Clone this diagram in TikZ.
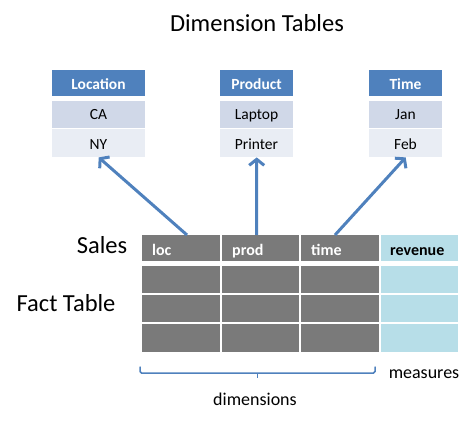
\documentclass[tikz,border=0pt]{standalone}
\usepackage{fontspec}
\setmainfont{Carlito}
\usetikzlibrary{arrows.meta}
\definecolor{hblue}{HTML}{4F81BD}
\definecolor{rowa}{HTML}{D0D8E8}
\definecolor{rowb}{HTML}{E9EDF4}
\definecolor{fgray}{HTML}{7A7A7A}
\definecolor{lblue}{HTML}{B7DEE8}
\tikzset{
  box/.style={draw=none, inner sep=0pt, anchor=north west},
  hdr/.style={box, fill=hblue},
  ra/.style={box, fill=rowa},
  rb/.style={box, fill=rowb},
  gcell/.style={box, fill=fgray},
  mcell/.style={box, fill=lblue},
  htxt/.style={anchor=base, text=white, font=\fontsize{15.5}{18}\selectfont\bfseries, inner sep=0pt},
  rtxt/.style={anchor=base, text=black, font=\fontsize{15.5}{18}\selectfont, inner sep=0pt},
  ftxt/.style={anchor=base west, font=\fontsize{16}{19}\selectfont\bfseries, inner sep=0pt},
  big/.style={anchor=base, font=\fontsize{24.5}{29}\selectfont, inner sep=0pt},
  mid/.style={anchor=base, font=\fontsize{18}{22}\selectfont, inner sep=0pt},
  conn/.style={draw=hblue, line width=3pt, -{Straight Barb[length=6pt,width=15pt]}},
}
\begin{document}
\begin{tikzpicture}[x=1pt,y=-1pt]
\useasboundingbox (0,0) rectangle (474,422);
% title
\node[big] (title) at (257,32) {Dimension Tables};
% Location table
\node[hdr, minimum width=93pt, minimum height=26pt] (lochdr) at (52,70) {};
\node[ra, minimum width=93pt, minimum height=27pt] (ca) at (52,101) {};
\node[rb, minimum width=93pt, minimum height=28pt] (ny) at (52,129) {};
\node[htxt] (loct) at (98.5,90) {Location};
\node[rtxt] (cat) at (98.5,120) {CA};
\node[rtxt] (nyt) at (98.5,150) {NY};
% Product table
\node[hdr, minimum width=73pt, minimum height=26pt] (prodhdr) at (220,70) {};
\node[ra, minimum width=73pt, minimum height=27pt] (laptop) at (220,101) {};
\node[rb, minimum width=73pt, minimum height=28pt] (printer) at (220,129) {};
\node[htxt] (prodt) at (256.5,90) {Product};
\node[rtxt] (lapt) at (256.5,120) {Laptop};
\node[rtxt] (prit) at (256.5,150) {Printer};
% Time table
\node[hdr, minimum width=73pt, minimum height=26pt] (timehdr) at (369,70) {};
\node[ra, minimum width=73pt, minimum height=27pt] (jan) at (369,101) {};
\node[rb, minimum width=73pt, minimum height=28pt] (feb) at (369,129) {};
\node[htxt] (timet) at (405.5,90) {Time};
\node[rtxt] (jant) at (405.5,120) {Jan};
\node[rtxt] (febt) at (405.5,150) {Feb};
% Fact table
\foreach \x/\w/\n in {142/78/a,222/77/b,301/78/c}{
  \node[gcell, minimum width=\w pt, minimum height=26pt] (h\n) at (\x,235) {};
  \node[gcell, minimum width=\w pt, minimum height=27pt] (r1\n) at (\x,266) {};
  \node[gcell, minimum width=\w pt, minimum height=27.5pt] (r2\n) at (\x,294.5) {};
  \node[gcell, minimum width=\w pt, minimum height=28pt] (r3\n) at (\x,324) {};
}
\node[mcell, minimum width=77pt, minimum height=26pt] (hd) at (381,235) {};
\node[mcell, minimum width=77pt, minimum height=27pt] (r1d) at (381,266) {};
\node[mcell, minimum width=77pt, minimum height=27.5pt] (r2d) at (381,294.5) {};
\node[mcell, minimum width=77pt, minimum height=28pt] (r3d) at (381,324) {};
\node[ftxt, text=white] (loc) at (152,255) {loc};
\node[ftxt, text=white] (prod) at (232,255) {prod};
\node[ftxt, text=white] (time) at (311,255) {time};
\node[ftxt, text=black] (rev) at (390,255) {revenue};
% side labels
\node[big] (sales) at (102,254) {Sales};
\node[big] (fact) at (66,311) {Fact Table};
\node[mid] (meas) at (424,378) {measures};
\node[mid] (dims) at (255,405) {dimensions};
% arrows
\coordinate (s1) at (187,235);
\coordinate (s2) at (256.5,235);
\coordinate (s3) at (335,235);
\draw[conn] (s1) -- (ny.south);
\draw[conn] (s2) -- (printer.south);
\draw[conn] (s3) -- (feb.south);
% brace
\draw[hblue, line width=1.5pt, line cap=round, rounded corners=1.5pt]
  (140,367) -- (140,373) -- (375,373) -- (375,367);
\draw[hblue, line width=1.5pt] (257.5,373) -- (257.5,378);
\end{tikzpicture}
\end{document}
